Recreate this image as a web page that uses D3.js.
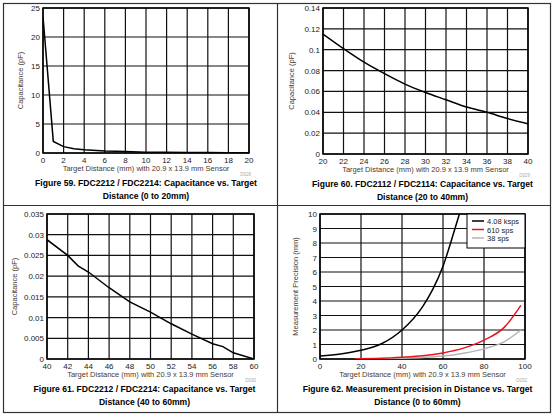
<!DOCTYPE html>
<html>
<head>
<meta charset="utf-8">
<script src="https://cdn.jsdelivr.net/npm/d3@7"></script>
<style>
  body { margin: 0; background: #fff; }
  text { font-family: "Liberation Sans", Arial, sans-serif; }
</style>
</head>
<body>
<div id="chart"></div>
<script>
// Figure 59 data
var dist59 = [0, 1, 2, 3, 4, 6, 8, 10, 12, 14, 16, 18, 20];
var cap59 = [23.5, 2.0, 1.1, 0.75, 0.55, 0.35, 0.25, 0.15, 0.12, 0.1, 0.08, 0.06, 0.05];
// Figure 60 data
var dist60 = [20, 22, 24, 26, 28, 30, 32, 34, 36, 38, 40];
var cap60 = [0.115, 0.101, 0.088, 0.077, 0.067, 0.059, 0.052, 0.045, 0.040, 0.034, 0.029];
// Figure 61 data
var dist61 = [40, 42, 43, 44, 46, 48, 50, 52, 54, 56, 57, 58, 60];
var cap61 = [0.0288, 0.025, 0.0225, 0.021, 0.0172, 0.0138, 0.0113, 0.0085, 0.006, 0.0037, 0.003, 0.0015, 0];
// Figure 62 data
var dist62a = [0, 10, 20, 30, 40, 50, 55, 60, 65, 68];
var prec408k = [0.2, 0.35, 0.6, 1.05, 2.0, 3.6, 4.8, 6.4, 8.6, 10];
var dist62b = [17, 30, 40, 50, 60, 70, 80, 90, 98];
var prec610 = [0.02, 0.05, 0.12, 0.22, 0.42, 0.75, 1.3, 2.2, 3.7];
var dist62c = [30, 40, 50, 60, 70, 80, 90, 98];
var prec38 = [0.02, 0.05, 0.1, 0.2, 0.4, 0.7, 1.2, 2.0];

var seriesNames = ["4.08 ksps", "610 sps", "38 sps"];
var seriesColors = ["#000", "#e8141c", "#b4b4b4"];

var svg = d3.select("#chart").append("svg").attr("width", 554).attr("height", 417);

// frame
svg.append("rect").attr("x", 3.5).attr("y", 3.5).attr("width", 547).attr("height", 409)
  .attr("fill", "none").attr("stroke", "#333").attr("stroke-width", 1.2);
svg.append("line").attr("x1", 277.5).attr("x2", 277.5).attr("y1", 3).attr("y2", 413).attr("stroke", "#333").attr("stroke-width", 1.2);
svg.append("line").attr("x1", 3).attr("x2", 551).attr("y1", 205.5).attr("y2", 205.5).attr("stroke", "#333").attr("stroke-width", 1.2);

function panel(o) {
  var x = d3.scaleLinear().domain(o.xd).range([o.x0, o.x1]);
  var y = d3.scaleLinear().domain(o.yd).range([o.y1, o.y0]);
  var g = svg.append("g");

  // grid
  g.selectAll(".vg").data(o.xgrid).enter().append("line")
    .attr("x1", function (d) { return x(d); }).attr("x2", function (d) { return x(d); })
    .attr("y1", o.y0).attr("y2", o.y1).attr("stroke", "#111").attr("stroke-width", 1.2);
  g.selectAll(".hg").data(o.yticks).enter().append("line")
    .attr("x1", o.x0).attr("x2", o.x1)
    .attr("y1", function (d) { return y(d); }).attr("y2", function (d) { return y(d); })
    .attr("stroke", "#111").attr("stroke-width", 1.2);
  g.append("rect").attr("x", o.x0).attr("y", o.y0).attr("width", o.x1 - o.x0).attr("height", o.y1 - o.y0)
    .attr("fill", "none").attr("stroke", "#000").attr("stroke-width", 1.5);

  // tick labels
  g.selectAll(".xt").data(o.xticks).enter().append("text")
    .attr("x", function (d) { return x(d); }).attr("y", o.y1 + 10)
    .attr("text-anchor", "middle").attr("font-size", 8).attr("fill", "#222")
    .text(function (d) { return d; });
  g.selectAll(".yt").data(o.yticks).enter().append("text")
    .attr("x", o.x0 - 3).attr("y", function (d) { return y(d) + 3; })
    .attr("text-anchor", "end").attr("font-size", 8).attr("fill", "#222")
    .text(function (d) { return d; });

  // axis titles
  g.append("text").attr("x", (o.x0 + o.x1) / 2).attr("y", o.y1 + 18)
    .attr("text-anchor", "middle").attr("font-size", 7.5).attr("fill", "#4a3a30")
    .text("Target Distance (mm) with 20.9 x 13.9 mm Sensor");
  g.append("text").attr("transform", "translate(" + o.ytx + "," + (o.y0 + o.y1) / 2 + ") rotate(-90)")
    .attr("text-anchor", "middle").attr("font-size", 7.5).attr("fill", "#4a3a30")
    .text(o.ytitle);
  g.append("text").attr("x", o.x1 + 2).attr("y", o.y1 + 23)
    .attr("text-anchor", "end").attr("font-size", 4.5).attr("fill", "#aaa").text(o.code);

  // caption
  var cx = (o.x0 + o.x1) / 2 + o.capdx;
  g.append("text").attr("x", cx).attr("y", o.y1 + 33).attr("text-anchor", "middle")
    .attr("font-size", 8.6).attr("font-weight", "bold").attr("fill", "#000").text(o.cap[0]);
  g.append("text").attr("x", cx).attr("y", o.y1 + 46).attr("text-anchor", "middle")
    .attr("font-size", 8.6).attr("font-weight", "bold").attr("fill", "#000").text(o.cap[1]);

  // lines
  var clipId = "clip" + o.code;
  svg.append("clipPath").attr("id", clipId).append("rect")
    .attr("x", o.x0).attr("y", o.y0).attr("width", o.x1 - o.x0).attr("height", o.y1 - o.y0);
  o.series.forEach(function (s) {
    var line = d3.line().x(function (d) { return x(d[0]); }).y(function (d) { return y(d[1]); })
      .curve(s.curve || d3.curveLinear);
    g.append("path").datum(d3.zip(s.xs, s.ys)).attr("d", line)
      .attr("clip-path", "url(#" + clipId + ")")
      .attr("fill", "none").attr("stroke", s.color).attr("stroke-width", 1.5);
  });
  return { g: g, x: x, y: y };
}

panel({
  x0: 43, x1: 249, y0: 8, y1: 153, xd: [0, 20], yd: [0, 25],
  xticks: d3.range(0, 21, 2), xgrid: d3.range(0, 21, 2), yticks: d3.range(0, 26, 5),
  ytitle: "Capacitance (pF)", ytx: 23, code: "D028", capdx: 0,
  cap: ["Figure 59. FDC2212 / FDC2214: Capacitance vs. Target", "Distance (0 to 20mm)"],
  series: [{ xs: dist59, ys: cap59, color: "#000" }]
});

panel({
  x0: 323, x1: 528, y0: 8, y1: 154, xd: [20, 40], yd: [0, 0.14],
  xticks: d3.range(20, 41, 2), xgrid: d3.range(20, 41, 2), yticks: d3.range(0, 7.5).map(function (i) { return +(i * 0.02).toFixed(2); }),
  ytitle: "Capacitance (pF)", ytx: 294, code: "D029", capdx: -3,
  cap: ["Figure 60. FDC2112 / FDC2114: Capacitance vs. Target", "Distance (20 to 40mm)"],
  series: [{ xs: dist60, ys: cap60, color: "#000", curve: d3.curveMonotoneX }]
});

panel({
  x0: 47, x1: 254, y0: 214, y1: 359, xd: [40, 60], yd: [0, 0.035],
  xticks: d3.range(40, 61, 2), xgrid: d3.range(40, 61, 2), yticks: d3.range(0, 7.5).map(function (i) { return +(i * 0.005).toFixed(3); }),
  ytitle: "Capacitance (pF)", ytx: 17, code: "D030", capdx: -6,
  cap: ["Figure 61. FDC2212 / FDC2214: Capacitance vs. Target", "Distance (40 to 60mm)"],
  series: [{ xs: dist61, ys: cap61, color: "#000" }]
});

var p4 = panel({
  x0: 320, x1: 525, y0: 214, y1: 359, xd: [0, 100], yd: [0, 10],
  xticks: d3.range(0, 101, 20), xgrid: d3.range(0, 101, 20), yticks: d3.range(0, 11, 1),
  ytitle: "Measurement Precision (mm)", ytx: 298, code: "D032", capdx: -5,
  cap: ["Figure 62. Measurement precision in Distance vs. Target", "Distance (0 to 60mm)"],
  series: [
    { xs: dist62c, ys: prec38, color: seriesColors[2], curve: d3.curveMonotoneX },
    { xs: dist62b, ys: prec610, color: seriesColors[1], curve: d3.curveMonotoneX },
    { xs: dist62a, ys: prec408k, color: seriesColors[0], curve: d3.curveMonotoneX }
  ]
});

// legend
var lg = p4.g.append("g").attr("transform", "translate(467,214)");
lg.append("rect").attr("width", 58).attr("height", 34).attr("fill", "#fff").attr("stroke", "#000").attr("stroke-width", 1);
seriesNames.forEach(function (n, i) {
  lg.append("line").attr("x1", 5).attr("x2", 17).attr("y1", 7 + i * 8.5).attr("y2", 7 + i * 8.5)
    .attr("stroke", seriesColors[i]).attr("stroke-width", 1.5);
  lg.append("text").attr("x", 20).attr("y", 10 + i * 8.5).attr("font-size", 7.5).attr("fill", "#222").text(n);
});
</script>
</body>
</html>
